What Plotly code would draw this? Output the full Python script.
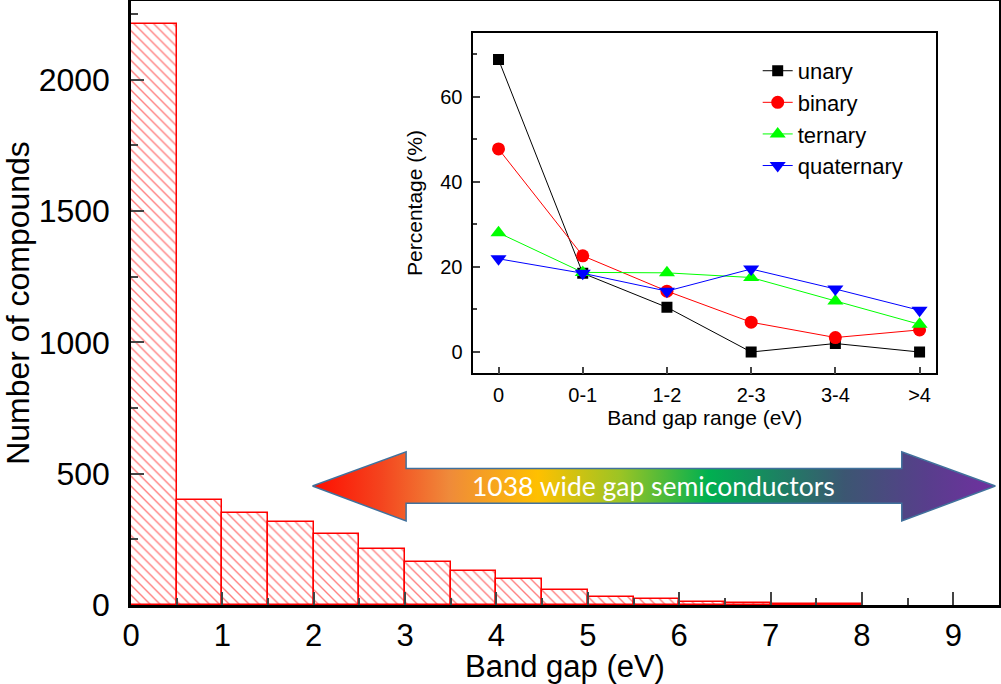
import plotly.graph_objects as go

# histogram of band gaps (bin width 0.5 eV)
bin_left = [0, 0.5, 1, 1.5, 2, 2.5, 3, 3.5, 4, 4.5, 5, 5.5, 6, 6.5, 7, 7.5]
counts = [2213, 400, 349, 316, 269, 212, 162, 131, 100, 56, 32, 23, 11, 9, 4, 3]
bin_w = 0.5

# inset: percentage per band gap range
ranges = ['0', '0-1', '1-2', '2-3', '3-4', '>4']
unary = [68.7, 18.5, 10.5, 0.0, 2.0, 0.0]
binary = [47.7, 22.6, 14.3, 7.0, 3.4, 5.2]
ternary = [28.0, 18.7, 18.6, 17.5, 12.0, 6.5]
quaternary = [21.9, 18.5, 14.3, 19.5, 14.8, 9.8]

# double arrow (main axis data units)
arr_x = [1.986, 3.011, 3.011, 8.436, 8.436, 9.460, 8.436, 8.436, 3.011, 3.011, 1.986]
arr_y = [453, 583, 520, 520, 583, 453, 320, 387, 387, 320, 453]
arr_text = '1038 wide gap semiconductors'

FONT = 'Liberation Sans, Arial'

fig = go.Figure()

fig.add_trace(go.Bar(
    x=[b + bin_w / 2 for b in bin_left], y=counts, width=bin_w,
    marker=dict(color='white',
                line=dict(color='red', width=1.5),
                pattern=dict(shape='\\', fgcolor='red', bgcolor='white', size=7, solidity=0.2)),
    showlegend=False, xaxis='x', yaxis='y'))

fig.add_trace(go.Scatter(
    x=arr_x, y=arr_y, mode='lines', fill='toself',
    line=dict(color='#41719c', width=1.5),
    fillgradient=dict(type='horizontal', colorscale=[
        [0.0, '#ff0d00'], [0.1, '#f4441e'], [0.2, '#ef8a3a'], [0.33, '#ffc000'],
        [0.45, '#9cc424'], [0.58, '#00b050'], [0.68, '#1c8262'], [0.78, '#3c5672'],
        [0.9, '#583e8c'], [1.0, '#7030a0']]),
    hoverinfo='skip', showlegend=False, xaxis='x', yaxis='y'))

fig.add_annotation(x=(arr_x[0] + arr_x[5]) / 2, y=arr_y[0], xref='x', yref='y',
                   text=arr_text, showarrow=False,
                   font=dict(family='Lato, Open Sans', size=26.5, color='white'))

series = [('unary', unary, 'black', 'square', 11),
          ('binary', binary, 'red', 'circle', 13),
          ('ternary', ternary, '#00ff00', 'triangle-up', 14),
          ('quaternary', quaternary, 'blue', 'triangle-down', 14)]
for name, vals, col, sym, sz in series:
    fig.add_trace(go.Scatter(
        x=ranges, y=vals, name=name, mode='lines+markers',
        line=dict(color=col, width=1),
        marker=dict(color=col, symbol=sym, size=sz),
        xaxis='x2', yaxis='y2'))

fig.update_layout(
    width=1001, height=684,
    margin=dict(l=131, r=2, t=1, b=79),
    paper_bgcolor='white', plot_bgcolor='white',
    font=dict(family=FONT, color='black'),
    bargap=0,
    xaxis=dict(range=[0, 9.5], dtick=1, ticks='inside', ticklen=13, tickwidth=2,
               minor=dict(dtick=0.5, ticks='inside', ticklen=7, tickwidth=2),
               showline=True, linewidth=2.5, linecolor='black', mirror=True,
               showgrid=False, zeroline=False, tickfont=dict(size=31),
               ticklabelstandoff=1, automargin=False,
               title=dict(text='Band gap (eV)', font=dict(size=31), standoff=1)),
    yaxis=dict(range=[0, 2300], dtick=500, ticks='inside', ticklen=13, tickwidth=2,
               minor=dict(dtick=250, ticks='inside', ticklen=7, tickwidth=2),
               showline=True, linewidth=2.5, linecolor='black', mirror=True,
               showgrid=False, zeroline=False, tickfont=dict(size=32),
               ticklabelstandoff=12, automargin=False,
               title=dict(text='Number of compounds', font=dict(size=32), standoff=10)),
    xaxis2=dict(domain=[0.3943, 0.9279], anchor='y2', type='category',
                categoryorder='array', categoryarray=ranges, range=[-0.3, 5.2],
                ticks='inside', ticklen=7, tickwidth=1.5,
                showline=True, linewidth=1.5, linecolor='black', mirror=True,
                showgrid=False, zeroline=False, tickfont=dict(size=20),
                ticklabelstandoff=3, automargin=False,
                title=dict(text='Band gap range (eV)', font=dict(size=21), standoff=0)),
    yaxis2=dict(domain=[0.3836, 0.9475], anchor='x2', range=[-5, 75], dtick=20,
                ticks='inside', ticklen=7, tickwidth=1.5,
                minor=dict(dtick=10, ticks='inside', ticklen=4, tickwidth=1.5),
                showline=True, linewidth=1.5, linecolor='black', mirror=True,
                showgrid=False, zeroline=False, tickfont=dict(size=20),
                ticklabelstandoff=5, automargin=False,
                title=dict(text='Percentage (%)', font=dict(size=21), standoff=12)),
    legend=dict(x=0.722, y=0.919, xanchor='left', yanchor='top',
                bgcolor='rgba(0,0,0,0)', font=dict(size=22, family=FONT)),
)

# page has a default 8px body margin; drop it so the figure sits at 0,0
fig.write_html("out.html", config={'displayModeBar': False},
               post_script="document.body.style.margin='0';")
